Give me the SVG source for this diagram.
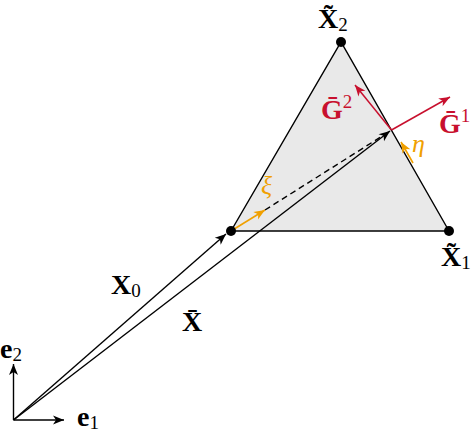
<svg xmlns="http://www.w3.org/2000/svg" width="474" height="438" viewBox="0 0 474 438">
<style>
.ln{stroke:#000;stroke-width:1.4;fill:none}
.lb{font-family:"Liberation Serif",serif;font-weight:bold;font-size:28px;fill:#000}
.sub{font-family:"Liberation Serif",serif;font-weight:normal;font-size:19px}
.gr{font-family:"Liberation Serif",serif;font-style:italic;font-size:26px;fill:#f0a000}
.red{fill:#c8102e}
</style>
<defs>
<marker id="ab" markerUnits="userSpaceOnUse" markerWidth="14" markerHeight="12" viewBox="-12 -6 14 12" refX="0" refY="0" orient="auto"><path d="M0,0 L-11,-4.5 L-8,0 L-11,4.5 Z" fill="#000"/></marker>
<marker id="ao" markerUnits="userSpaceOnUse" markerWidth="14" markerHeight="12" viewBox="-12 -6 14 12" refX="0" refY="0" orient="auto"><path d="M0,0 L-11,-4.5 L-8,0 L-11,4.5 Z" fill="#f0a000"/></marker>
<marker id="ar" markerUnits="userSpaceOnUse" markerWidth="14" markerHeight="12" viewBox="-12 -6 14 12" refX="0" refY="0" orient="auto"><path d="M0,0 L-11,-4.5 L-8,0 L-11,4.5 Z" fill="#c8102e"/></marker>
</defs>
<g id="triangle">
<polygon points="231,231 449,231 341,42" fill="#e9e9e9" stroke="#000" stroke-width="1.4"/>
</g>
<g id="connectors">
<line id="e1" class="ln" x1="13.5" y1="420" x2="64" y2="420" marker-end="url(#ab)"/>
<line id="e2" class="ln" x1="13.5" y1="420" x2="13.5" y2="364" marker-end="url(#ab)"/>
<line id="X0" class="ln" x1="13.5" y1="420" x2="226" y2="234" marker-end="url(#ab)"/>
<line id="Xbar" class="ln" x1="13.5" y1="420" x2="390" y2="131" marker-end="url(#ab)"/>
<line id="dash" class="ln" x1="265" y1="210" x2="391" y2="130.5" stroke-dasharray="6,4" stroke-width="1.6"/>
<line id="xi" x1="231" y1="231" x2="265" y2="210" stroke="#f0a000" stroke-width="1.6" marker-end="url(#ao)"/>
<line id="eta" x1="413" y1="163" x2="401" y2="142" stroke="#f0a000" stroke-width="1.6" marker-end="url(#ao)"/>
<line id="G1" x1="391.5" y1="130" x2="450" y2="97" stroke="#c8102e" stroke-width="1.5" marker-end="url(#ar)"/>
<line id="G2" x1="391.5" y1="130" x2="355" y2="85" stroke="#c8102e" stroke-width="1.5" marker-end="url(#ar)"/>
</g>
<g id="X0pt"><circle cx="231" cy="231" r="5" fill="#000"/></g>
<g id="X1pt"><circle cx="449" cy="231" r="5" fill="#000"/></g>
<g id="X2pt"><circle cx="341" cy="42" r="5" fill="#000"/></g>
<g id="labels">
<text class="lb" x="318" y="28">X̃<tspan class="sub" dy="3">2</tspan></text>
<text class="lb" x="441" y="266">X̃<tspan class="sub" dy="3">1</tspan></text>
<text class="lb" x="111" y="294">X<tspan class="sub" dy="3">0</tspan></text>
<text class="lb" x="182" y="331">X̄</text>
<text class="lb red" x="321" y="119">Ḡ<tspan class="sub" dy="-11">2</tspan></text>
<text class="lb red" x="439" y="133">Ḡ<tspan class="sub" dy="-11">1</tspan></text>
<text class="lb" x="0" y="358">e<tspan class="sub" dy="3">2</tspan></text>
<text class="lb" x="77" y="426">e<tspan class="sub" dy="3">1</tspan></text>
<text class="gr" x="261" y="194">ξ</text>
<text class="gr" x="412" y="152">η</text>
</g>
</svg>
